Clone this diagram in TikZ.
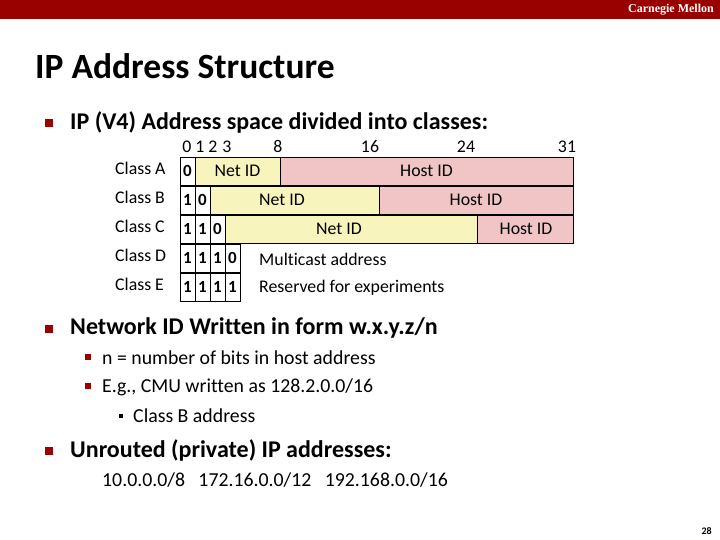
\documentclass[tikz,border=0pt]{standalone}
\usepackage{fontspec}
\setmainfont{Carlito}[Ligatures={NoCommon}]
\newfontfamily\serifx{Liberation Serif}
\definecolor{cmured}{HTML}{990000}
\definecolor{netc}{HTML}{F8F4BE}
\definecolor{hostc}{HTML}{F1C5C5}
\begin{document}
\begin{tikzpicture}[x=1pt,y=-1pt,
 cell/.style={draw=black,line width=0.6pt,inner sep=0pt,anchor=north west},
 lab/.style={anchor=west,inner sep=0pt,font=\fontsize{17.8}{20}\selectfont},
 bit/.style={font=\fontsize{17}{20}\selectfont\bfseries,inner sep=0pt},
 fieldtxt/.style={font=\fontsize{17.8}{20}\selectfont,inner sep=0pt},
 tick/.style={anchor=base,font=\fontsize{17.8}{20}\selectfont,inner sep=0pt},
 b1/.style={fill=cmured,minimum size=8.5pt,inner sep=0pt},
 b2/.style={fill=cmured,minimum size=6.5pt,inner sep=0pt},
 b3/.style={fill=black,minimum size=4.5pt,inner sep=0pt},
 t1/.style={anchor=west,inner sep=0pt,font=\fontsize{24}{27}\selectfont\bfseries},
 t2/.style={anchor=west,inner sep=0pt,font=\fontsize{19.8}{22}\selectfont},
]
\useasboundingbox (0,0) rectangle (720,540);
\fill[cmured] (0,0) rectangle (720,19);
\node[anchor=east,text=white,inner sep=0pt,font=\serifx\fontsize{12}{14}\selectfont\bfseries] (cmu) at (714,10) {Carnegie Mellon};
\node[anchor=west,inner sep=0pt,font=\fontsize{35.5}{40}\selectfont\bfseries] (title) at (35,66) {IP Address Structure};
\node[anchor=east,inner sep=0pt,font=\fontsize{10}{12}\selectfont\bfseries] (pg) at (712,531) {28};

\node[b1] (s1) at (49,123) {};
\node[t1] (l1) at (70,122) {IP (V4) Address space divided into classes:};

\foreach \t/\x in {0/187,1/200,2/213,3/227,8/278,16/370,24/466,31/567}
  \node[tick] (tk\t) at (\x,153) {\t};

\foreach \c/\y in {A/170,B/199,C/228,D/257,E/286}
  \node[lab] (cl\c) at (115,\y-2) {Class \c};

% Row A
\draw[cell,fill=white] (180,157) rectangle (195,185);
\draw[cell,fill=netc] (195,157) rectangle (280,185);
\draw[cell,fill=hostc] (280,157) rectangle (573,185);
\node[bit] (a0) at (187.5,171) {0};
\node[fieldtxt] (an) at (237.5,171) {Net ID};
\node[fieldtxt] (ah) at (426.5,171) {Host ID};
% Row B
\draw[cell,fill=white] (180,186) rectangle (195,214);
\draw[cell,fill=white] (195,186) rectangle (210,214);
\draw[cell,fill=netc] (210,186) rectangle (379,214);
\draw[cell,fill=hostc] (379,186) rectangle (573,214);
\node[bit] (b0) at (187.5,200) {1};
\node[bit] (b1) at (202.5,200) {0};
\node[fieldtxt] (bn) at (282,200) {Net ID};
\node[fieldtxt] (bh) at (476,200) {Host ID};
% Row C
\foreach \i in {0,1,2} \draw[cell,fill=white] (180+15*\i,215) rectangle (195+15*\i,243);
\node[bit] (c0) at (187.5,229) {1};
\node[bit] (c1) at (202.5,229) {1};
\node[bit] (c2) at (217.5,229) {0};
\draw[cell,fill=netc] (225,215) rectangle (477,243);
\draw[cell,fill=hostc] (477,215) rectangle (573,243);
\node[fieldtxt] (cn) at (339,229) {Net ID};
\node[fieldtxt] (ch) at (526,229) {Host ID};
% Row D
\foreach \i in {0,1,2,3} \draw[cell,fill=white] (180+15*\i,244) rectangle (195+15*\i,272);
\node[bit] (d0) at (187.5,258) {1};
\node[bit] (d1) at (202.5,258) {1};
\node[bit] (d2) at (217.5,258) {1};
\node[bit] (d3) at (232.5,258) {0};
\node[lab] (dt) at (259,259) {Multicast address};
% Row E
\foreach \i in {0,1,2,3} \draw[cell,fill=white] (180+15*\i,273) rectangle (195+15*\i,301);
\node[bit] (e0) at (187.5,287) {1};
\node[bit] (e1) at (202.5,287) {1};
\node[bit] (e2) at (217.5,287) {1};
\node[bit] (e3) at (232.5,287) {1};
\node[lab] (et) at (259,288) {Reserved for experiments};

\node[b1] (s2) at (49,329) {};
\node[t1] (l2) at (70,328) {Network ID Written in form w.x.y.z/n};
\node[b2] (s21) at (88,357) {};
\node[t2] (l21) at (102,358) {n = number of bits in host address};
\node[b2] (s22) at (88,386) {};
\node[t2] (l22) at (102,387) {E.g., CMU written as 128.2.0.0/16};
\node[b3] (s23) at (121,416) {};
\node[t2] (l23) at (133,416) {Class B address};
\node[b1] (s3) at (49,451) {};
\node[t1] (l3) at (70,450) {Unrouted (private) IP addresses:};
\node[t2] (l31) at (102,480) {10.0.0.0/8\ \ \ 172.16.0.0/12\ \ \ 192.168.0.0/16};
\end{tikzpicture}
\end{document}
